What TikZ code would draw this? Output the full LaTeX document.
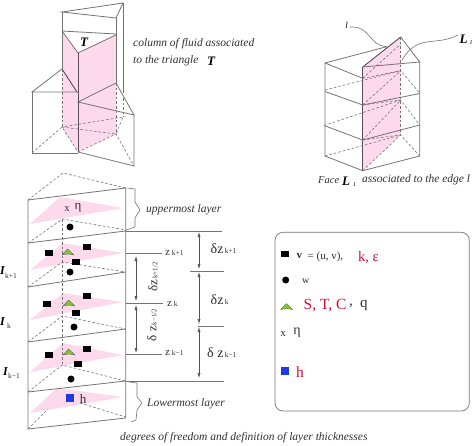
\documentclass[tikz,border=0pt]{standalone}
\usepackage{fontspec}
\setmainfont{Liberation Serif}
\definecolor{pk}{HTML}{FCDAEC}
\definecolor{ln}{HTML}{767276}
\definecolor{lnd}{HTML}{5A4C5A}
\definecolor{rd}{HTML}{CF1030}
\definecolor{gr}{HTML}{7CCB2E}
\definecolor{bl}{HTML}{2038E0}
\definecolor{tx}{HTML}{303030}
\usetikzlibrary{arrows.meta,calc}
\tikzset{
 solidl/.style={draw=ln,line width=0.8pt},
 darkl/.style={draw=lnd,line width=0.9pt},
 dashl/.style={draw=ln,line width=0.6pt,dash pattern=on 2.6pt off 2pt},
 dim/.style={draw=lnd,line width=0.5pt,{Latex[length=5pt,width=3pt]}-{Latex[length=5pt,width=3pt]}},
 hl/.style={draw=ln,line width=0.7pt},
 rect/.style={fill=black,draw=none,minimum width=8pt,minimum height=6pt,inner sep=0pt},
 dot/.style={fill=black,circle,draw=none,minimum size=7pt,inner sep=0pt},
 label/.style={inner sep=0pt,text=tx,font=\fontsize{11.5}{13}\selectfont\itshape},
 sym/.style={inner sep=0pt,text=tx},
 red/.style={inner sep=0pt,text=rd},
}
\newcommand{\grtri}[1]{\fill[gr,draw=lnd,line width=0.3pt] ($(#1)+(-6,3)$) -- ($(#1)+(-0.5,-3)$) -- ($(#1)+(6,3)$) -- ($(#1)+(0,2)$) -- cycle;}
\begin{document}
\begin{tikzpicture}[x=1pt,y=-1pt]
\useasboundingbox (0,0) rectangle (474,445);
% --- top left column
\fill[pk] (62,31) -- (78,53) -- (116,34) -- (116,134) -- (78,152) -- (62,127) -- cycle;
\draw[solidl] (62,12) -- (123,3) -- (116,18) -- cycle;
\draw[solidl] (62,12) -- (62,31) (116,18) -- (116,34) (123,3) -- (123,93);
\draw[solidl] (62,31) -- (116,34);
\draw[solidl] (62,31) -- (78,53);
\draw[solidl] (78,53) -- (116,35);
\draw[solidl] (62,31) -- (62,69) (116,34) -- (116,83);
\draw[darkl] (78,53) -- (78,152);
\draw[darkl] (62,69) -- (77,92);
\draw[solidl] (62,69) -- (32,92) -- (78,92);
\draw[solidl] (32,92) -- (32,153) -- (78,153);
\draw[solidl] (116,83) -- (78,102) -- (134,115) -- cycle;
\draw[solidl] (134,115) -- (134,166) -- (78,152);
\draw[dashl] (62,69) -- (62,127) (116,83) -- (116,134) (123,98) -- (123,117);
\draw[dashl] (32,153) -- (62,127) -- (78,152) -- (116,134) -- (134,166);
\draw[dashl] (62,127) -- (116,134) -- (123,117) -- cycle;
\node[inner sep=0pt,font=\fontsize{13}{15}\selectfont\bfseries\itshape] (T) at (84,42.5) {T};
\node[label,anchor=west] (c1) at (133,43.5) {column of fluid associated};
\node[label,anchor=west] (c2) at (133,60.5) {to the triangle};
\node[inner sep=0pt,font=\fontsize{13}{15}\selectfont\bfseries\itshape] (T2) at (211,61) {T};
% --- right prism
\fill[pk] (362.7,67) -- (400.7,37) -- (400.7,135) -- (362.7,170.7) -- cycle;
\draw[solidl] (325,63) -- (386.7,46.7);
\draw[darkl] (362.7,67) -- (400.7,37);
\draw[solidl] (400.7,37) -- (419.7,62) -- (362.7,67);
\draw[solidl] (325,63) -- (325,156) -- (362.7,170.7) -- (419.7,156) -- (419.7,62);
\draw[darkl] (362.7,67) -- (362.7,170.7);
\draw[solidl] (325,63) -- (362.7,78.3);
\draw[solidl] (325,91.5) -- (362.7,105) -- (419.7,93.5);
\draw[solidl] (324,125.5) -- (362.7,140) -- (419.7,125);
\draw[dashl] (400.7,37) -- (400.7,135);
\draw[dashl] (362.7,78.3) -- (400.7,70.7) -- (419.7,93);
\draw[dashl] (325,90) -- (400.7,70.7);
\draw[dashl] (362.7,105) -- (400.7,100) -- (419.7,125);
\draw[dashl] (324,125.5) -- (400.7,100);
\draw[dashl] (362.7,140) -- (400.7,135) -- (419.7,156);
\draw[dashl] (325,156) -- (400.7,135);
\draw[dashl] (362.7,78.3) -- (400.7,44);
\draw[dashl] (362.7,105) -- (400.7,70.7);
\draw[dashl] (362.7,140) -- (400.7,100);
\draw[dashl] (362.7,170.7) -- (400.7,135);
\node[inner sep=0pt,font=\fontsize{9}{11}\selectfont\itshape] (l) at (346.7,25) {l};
\coordinate (lend) at (387,46.5);
\draw[ln,line width=0.6pt] (l.east) ++(1.5,2) .. controls (372,26) and (368,46) .. (lend);
\node[inner sep=0pt,font=\fontsize{13}{15}\selectfont\bfseries\itshape] (L) at (463.5,39.5) {L};
\node[inner sep=0pt,font=\fontsize{6}{8}\selectfont\itshape] (Ls) at (471,43) {1};
\coordinate (Lend) at (402,60);
\draw[ln,line width=0.6pt] (458,35) .. controls (435,47) and (418,33) .. (Lend);
\node[inner sep=0pt,text=tx,font=\fontsize{10.5}{12}\selectfont\itshape,anchor=west] (f1) at (318,180) {Face};
\node[inner sep=0pt,font=\fontsize{13}{15}\selectfont\bfseries\itshape] (f2) at (346,181) {L};
\node[inner sep=0pt,font=\fontsize{6}{8}\selectfont\itshape] (f3) at (354.5,184.5) {1};
\node[label,anchor=west] (f4) at (362,180) {associated to the edge l};
% --- layered column: pink
\fill[pk] (30,224) -- (60,197) -- (123,208) -- cycle;
\fill[pk] (30,270) -- (63,243) -- (123,253) -- cycle;
\fill[pk] (30,320) -- (63,293) -- (123,302) -- cycle;
\fill[pk] (30,372) -- (63,343) -- (123,355) -- cycle;
\fill[pk] (30,413) -- (57,388) -- (123,397) -- cycle;
% frame
\draw[solidl] (28,200) -- (28,429) -- (125.7,418) -- (125.7,188) -- cycle;
\draw[solidl] (28,243) -- (125.7,231);
\draw[solidl] (28,287) -- (125.7,272);
\draw[solidl] (28,342) -- (125.7,329);
\draw[solidl] (28,392) -- (125.7,381);
\draw[dashl] (28,200) -- (63,173) -- (125.7,188);
\draw[dashl] (28,243) -- (62.5,219) -- (125.7,230);
\draw[dashl] (28,287) -- (62.3,262) -- (125.7,272);
\draw[dashl] (28,342) -- (62.3,316) -- (125.7,329);
\draw[dashl] (28,392) -- (62.3,365) -- (125.7,381);
\draw[dashl] (28,429) -- (48,409);
\draw[dashl] (80,403) -- (125.7,417);
\draw[dashl] (62.5,219) -- (62.5,365);
% markers
\node[rect] (m1) at (49,253) {};
\node[rect] (m2) at (87,247) {};
\node[rect] (m3) at (76,262) {};
\node[rect] (m4) at (47,304) {};
\node[rect] (m5) at (87,296) {};
\node[rect] (m6) at (76,313) {};
\node[rect] (m7) at (49,355) {};
\node[rect] (m8) at (87,349) {};
\node[rect] (m9) at (78,364) {};
\node[dot] (d1) at (70,227) {};
\node[dot] (d2) at (70,272) {};
\node[dot] (d3) at (74,327) {};
\node[dot] (d4) at (71,379) {};
\grtri{68,252}
\grtri{69,303}
\grtri{69,352}
\node[fill=bl,draw=none,minimum size=8pt,inner sep=0pt] (bb) at (70,398) {};
\node[sym,font=\fontsize{13}{15}\selectfont] (hh) at (83,399) {h};
\node[sym,font=\fontsize{10.5}{12}\selectfont] (x1) at (67,209) {x};
\node[sym,font=\fontsize{13}{15}\selectfont] (e1) at (78,208) {η};
% I labels
\node[inner sep=0pt,anchor=west,font=\fontsize{12}{14}\selectfont\itshape\bfseries] (i1) at (0,271) {I};
\node[inner sep=0pt,anchor=west,font=\fontsize{7.5}{9}\selectfont,text=tx] (i1s) at (5,276) {k+1};
\node[inner sep=0pt,anchor=west,font=\fontsize{12}{14}\selectfont\itshape\bfseries] (i2) at (0,322) {I};
\node[inner sep=0pt,anchor=west,font=\fontsize{7.5}{9}\selectfont,text=tx] (i2s) at (7,326) {k};
\node[inner sep=0pt,anchor=west,font=\fontsize{12}{14}\selectfont\itshape\bfseries] (i3) at (3,372) {I};
\node[inner sep=0pt,anchor=west,font=\fontsize{7.5}{9}\selectfont,text=tx] (i3s) at (8,376) {k−1};
% braces
\draw[ln,line width=0.6pt] (127,188) -- (135,189) -- (135,202) -- (140,210) -- (135,218) -- (135,227) -- (125,230.5);
\node[label,anchor=west] (up) at (146,210) {uppermost layer};
\draw[ln,line width=0.6pt] (129,382) -- (137,383) -- (137,397) -- (142,403) -- (137,410) -- (136,420) -- (131,422);
\node[label,anchor=west] (lo) at (147,404) {Lowermost layer};
% levels
\draw[hl] (125.7,231) -- (222,231);
\draw[hl] (126,253) -- (162,253);
\draw[hl] (126,303) -- (163,303);
\draw[hl] (126,354) -- (162,354);
\draw[hl] (190,271) -- (224,271);
\draw[hl] (198,326) -- (224,326);
\draw[hl] (125.7,381) -- (224,381);
\coordinate (a0) at (199,232); \coordinate (a1) at (199,269);
\coordinate (a2) at (199,272); \coordinate (a3) at (199,324);
\coordinate (a4) at (199,327); \coordinate (a5) at (199,378);
\coordinate (b0) at (136,256); \coordinate (b1) at (136,301);
\coordinate (b2) at (136,305); \coordinate (b3) at (136,353);
\draw[dim] (a0) -- (a1);
\draw[dim] (a2) -- (a3);
\draw[dim] (a4) -- (a5);
\draw[dim] (b0) -- (b1);
\draw[dim] (b2) -- (b3);
\node[sym,anchor=west,font=\fontsize{11}{13}\selectfont] (z1) at (165,252.5) {z\,\fontsize{7.5}{9}\selectfont k+1};
\node[sym,anchor=west,font=\fontsize{11}{13}\selectfont] (z2) at (167,304) {z\,\fontsize{7.5}{9}\selectfont k};
\node[sym,anchor=west,font=\fontsize{11}{13}\selectfont] (z3) at (165,353) {z\,\fontsize{7.5}{9}\selectfont k−1};
\node[sym,anchor=west,font=\fontsize{14}{16}\selectfont] (dz1) at (210.5,249) {δz\fontsize{7.5}{9}\selectfont\,k+1};
\node[sym,anchor=west,font=\fontsize{14}{16}\selectfont] (dz2) at (210.5,300) {δz\fontsize{7.5}{9}\selectfont\,k};
\node[sym,anchor=west,font=\fontsize{14}{16}\selectfont] (dz3) at (207,353) {δ z\fontsize{7.5}{9}\selectfont\,k−1};
\node[sym,rotate=90,font=\fontsize{13}{15}\selectfont] (dh1) at (153,277) {δz\fontsize{7}{8}\selectfont\,k+1/2};
\node[sym,rotate=90,font=\fontsize{13}{15}\selectfont] (dh2) at (152,325) {δ z\fontsize{7}{8}\selectfont\,k−1/2};
% legend
\draw[ln,line width=0.7pt,rounded corners=8pt] (275,232.3) rectangle (469.3,411);
\node[rect] (l1) at (285,254) {};
\node[sym,anchor=west,font=\fontsize{11}{13}\selectfont\bfseries] (l1a) at (296.5,256.5) {v};
\node[sym,anchor=west,font=\fontsize{11}{13}\selectfont] (l1b) at (307.5,257) {= (u, v),};
\node[red,anchor=west,font=\fontsize{14.5}{16}\selectfont] (l1c) at (358,258) {k, ε};
\node[dot] (l2) at (285.7,280) {};
\node[sym,anchor=west,font=\fontsize{10}{12}\selectfont] (l2a) at (302,281) {w};
\grtri{286.7,306.5}
\node[red,anchor=west,font=\fontsize{15.5}{18}\selectfont] (l3) at (303.5,306) {S, T, C};
\node[sym,anchor=west,font=\fontsize{15}{17}\selectfont] (l3a) at (349,306) {,};
\node[sym,anchor=west,font=\fontsize{15}{17}\selectfont] (l3b) at (360,305) {q};
\node[sym,font=\fontsize{11}{13}\selectfont] (l4) at (283,334) {x};
\node[sym,font=\fontsize{14}{16}\selectfont] (l4a) at (297,333) {η};
\node[fill=bl,draw=none,minimum size=8pt,inner sep=0pt] (l5) at (284.7,371) {};
\node[red,font=\fontsize{15.5}{18}\selectfont] (l5a) at (300,372) {h};
% caption
\node[label,anchor=west] (cap) at (120,438) {degrees of freedom and definition of layer thicknesses};
\end{tikzpicture}
\end{document}
